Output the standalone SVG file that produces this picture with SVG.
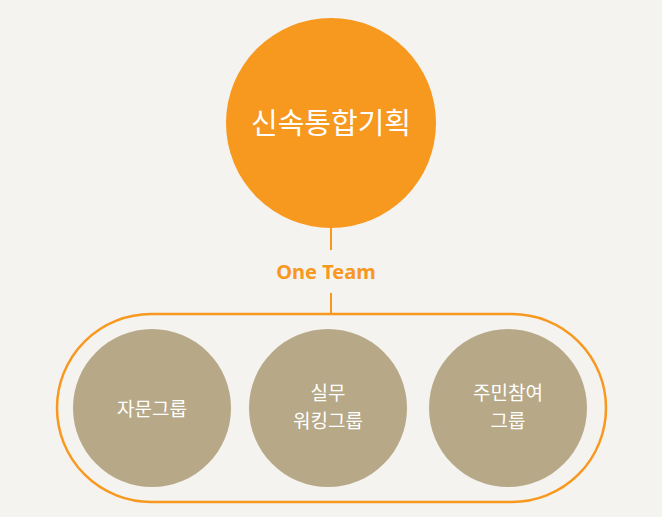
<svg xmlns="http://www.w3.org/2000/svg" width="662" height="517" viewBox="0 0 662 517">
<style>
.t{font-family:"Noto Sans CJK KR","Noto Sans",sans-serif;fill:#fff;text-anchor:middle}
.s{fill:#b7a887}
</style>
<rect width="662" height="517" fill="#f5f3ef"/>
<g id="connectors" stroke="#f7981f" stroke-width="2" fill="none">
<line x1="331" y1="227" x2="331" y2="250"/>
<line x1="331" y1="293" x2="331" y2="314"/>
<rect x="57" y="314" width="549" height="188" rx="94" stroke-width="2.5"/>
</g>
<g id="top"><circle cx="331" cy="123" r="105" fill="#f7981f"/>
<text class="t" x="331" y="134" font-size="29">신속통합기획</text></g>
<g id="label"><text x="326" y="279" font-family="Noto Sans,sans-serif" font-size="20" font-weight="bold" fill="#f7981f" text-anchor="middle">One Team</text></g>
<g id="n1"><circle class="s" cx="152" cy="408" r="79"/><text class="t" x="152" y="416" font-size="19">자문그룹</text></g>
<g id="n2"><circle class="s" cx="328" cy="408" r="79"/><text class="t" x="328" y="400" font-size="19">실무</text><text class="t" x="328" y="428" font-size="19">워킹그룹</text></g>
<g id="n3"><circle class="s" cx="508" cy="408" r="79"/><text class="t" x="508" y="400" font-size="19">주민참여</text><text class="t" x="508" y="428" font-size="19">그룹</text></g>
</svg>
